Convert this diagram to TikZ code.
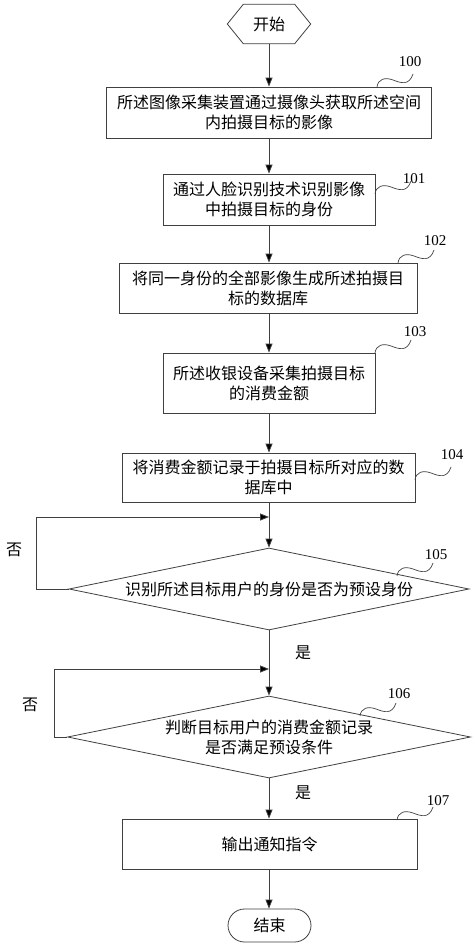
\documentclass[tikz,border=0pt]{standalone}
\usepackage{fontspec}
\setmainfont{Liberation Serif}
\newfontfamily\cjk{Noto Sans CJK SC}
\usetikzlibrary{arrows.meta,shapes.geometric,shapes.misc,calc}
\tikzset{
  ln/.style={draw=black!75,line width=0.8pt},
  arr/.style={ln,-{Triangle[length=9pt,width=7pt,fill=black]}},
  txt/.style={font=\cjk\fontsize{16}{20}\selectfont,align=center,inner sep=0pt},
  box/.style={txt,ln,rectangle},
  dia/.style={txt,ln,diamond,aspect=4.9},
  num/.style={font=\fontsize{15}{18}\selectfont,inner sep=0pt},
  squig/.pic={\draw[ln,line width=0.7pt] (0,0) .. controls (1,-8) and (8,-10) .. (16,-7) .. controls (24,-4) and (32,-1) .. (36,-13);}
}
\begin{document}
\begin{tikzpicture}[x=1pt,y=-1pt]
\useasboundingbox[fill=white] (0,0) rectangle (474,945);
% start hexagon
\node[txt,minimum width=83pt,minimum height=39pt] (start) at (269,24) {开始};
\draw[ln] (start.west) -- ([xshift=16pt]start.north west) -- ([xshift=-16pt]start.north east) -- (start.east) -- ([xshift=-16pt]start.south east) -- ([xshift=16pt]start.south west) -- cycle;
% steps
\node[box,minimum width=325pt,minimum height=51pt] (b100) at (269,112.5) {所述图像采集装置通过摄像头获取所述空间\\内拍摄目标的影像};
\node[box,minimum width=212pt,minimum height=51pt] (b101) at (269,199.5) {通过人脸识别技术识别影像\\中拍摄目标的身份};
\node[box,minimum width=298pt,minimum height=50pt] (b102) at (268,288) {将同一身份的全部影像生成所述拍摄目\\标的数据库};
\node[box,minimum width=212pt,minimum height=60pt] (b103) at (269,383) {所述收银设备采集拍摄目标\\的消费金额};
\node[box,minimum width=293pt,minimum height=49pt] (b104) at (268.5,477.5) {将消费金额记录于拍摄目标所对应的数\\据库中};
\node[dia,minimum width=400pt,minimum height=82pt] (d105) at (269,589) {识别所述目标用户的身份是否为预设身份};
\node[dia,minimum width=403pt,minimum height=82pt] (d106) at (269,737) {判断目标用户的消费金额记录\\是否满足预设条件};
\node[box,minimum width=295pt,minimum height=50pt] (b107) at (269.5,844) {输出通知指令};
\node[txt,ln,rounded rectangle,minimum width=83pt,minimum height=33pt] (end) at (269.5,925.5) {结束};
% junction points of loops
\coordinate (j105) at (269,517);
\coordinate (j106) at (269,669);
% main flow
\draw[arr] (start.south) -- (b100.north -| start.south);
\draw[arr] (b100.south -| start.south) -- (b101.north -| start.south);
\draw[arr] (b101.south -| start.south) -- (b102.north -| start.south);
\draw[arr] (b102.south -| start.south) -- (b103.north -| start.south);
\draw[arr] (b103.south -| start.south) -- (b104.north -| start.south);
\draw[arr] (b104.south -| start.south) -- (d105.north);
\draw[arr] (d105.south) -- (d106.north);
\draw[arr] (d106.south) -- (b107.north -| d106.south);
\draw[arr] (b107.south -| d106.south) -- (end.north -| d106.south);
% loops
\draw[arr] (d105.west) -- ++(-32,0) |- (j105);
\draw[arr] (d106.west) -- ++(-13,0) |- (j106);
% branch labels
\node[txt] (no1) at (14,550) {否};
\node[txt] (no2) at (30,705) {否};
\node[txt] (yes1) at (303,653) {是};
\node[txt] (yes2) at (303,793) {是};
% reference numbers
\node[num] (n100) at (410,62) {100};
\node[num] (n101) at (414,179) {101};
\node[num] (n102) at (435,241) {102};
\node[num] (n103) at (415,332) {103};
\node[num] (n104) at (452,455) {104};
\node[num] (n105) at (436,555) {105};
\node[num] (n106) at (399,694) {106};
\node[num] (n107) at (438,801) {107};
\pic at (377,87) {squig};
\pic at (375,194) {squig};
\pic at (398,263) {squig};
\pic at (375,353) {squig};
\pic at (415,480) {squig};
\pic at (397,576) {squig};
\pic at (360,716) {squig};
\pic at (397,820) {squig};
\end{tikzpicture}
\end{document}
